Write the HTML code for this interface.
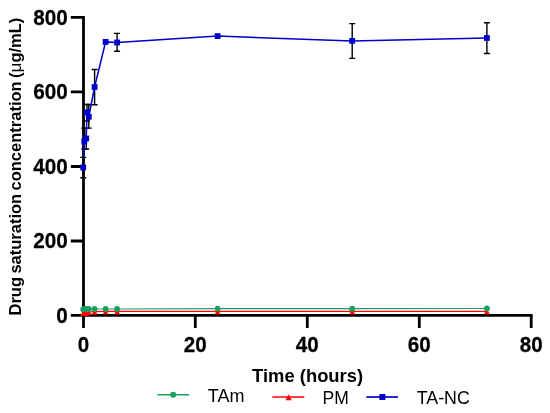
<!DOCTYPE html>
<html><head><meta charset="utf-8">
<style>
html,body{margin:0;padding:0;background:#fff;}
body{width:550px;height:413px;overflow:hidden;}
svg{display:block;}
text{font-family:"Liberation Sans",Arial,sans-serif;fill:#000;}
.b{font-weight:bold;}
</style></head><body>
<svg width="550" height="413" viewBox="0 0 550 413">
<rect width="550" height="413" fill="#fff"/>
<g stroke="#000" stroke-width="2.8" fill="none">
<path d="M83.5 16V327.9"/>
<path d="M70.8 315.3H532.6"/>
<path d="M70.8 17.4H83.5M70.8 91.9H83.5M70.8 166.5H83.5M70.8 241H83.5"/>
<path d="M195.3 315V327.9M307.3 315V327.9M419.3 315V327.9M531.2 315V327.9"/>
</g>
<g stroke="#000" stroke-width="1.4" fill="none">
<path d="M83.2 157.4V177.7M80.2 157.4h6M80.2 177.7h6"/>
<path d="M84.3 128.1V149M81.3 128.1h6M81.3 149h6"/>
<path d="M86.2 128.1V149M83.2 128.1h6M83.2 149h6"/>
<path d="M87 104.5V121M84.0 104.5h6M84.0 121h6"/>
<path d="M88.8 104.5V128.1M85.8 104.5h6M85.8 128.1h6"/>
<path d="M94.6 69.5V104.8M91.6 69.5h6M91.6 104.8h6"/>
<path d="M117.1 33.4V51.2M114.1 33.4h6M114.1 51.2h6"/>
<path d="M352.2 23.6V58.4M349.2 23.6h6M349.2 58.4h6"/>
<path d="M486.9 22.7V53.5M483.9 22.7h6M483.9 53.5h6"/>
</g>
<polyline fill="none" stroke="#ff0000" stroke-width="1.2" points="83.2,312.7 84.6,312.5 86,312.3 88.8,312.0 94.6,311.6 105.6,311.4 117.1,311.4 217.6,311.4 352.2,311.4 486.9,311.4"/>
<g fill="#ff0000">
<path d="M80.2 315.9l3-5.6l3 5.6z"/>
<path d="M81.6 315.7l3-5.6l3 5.6z"/>
<path d="M83.0 315.5l3-5.6l3 5.6z"/>
<path d="M85.8 315.2l3-5.6l3 5.6z"/>
<path d="M91.6 314.8l3-5.6l3 5.6z"/>
<path d="M102.6 314.6l3-5.6l3 5.6z"/>
<path d="M114.1 314.6l3-5.6l3 5.6z"/>
<path d="M214.6 314.6l3-5.6l3 5.6z"/>
<path d="M349.2 314.6l3-5.6l3 5.6z"/>
<path d="M483.9 314.6l3-5.6l3 5.6z"/>
</g>
<polyline fill="none" stroke="#1a9f62" stroke-width="1.2" points="83.2,309.3 84.6,309.1 86,308.9 88.8,308.9 94.6,309.0 105.6,309.0 117.1,309.0 217.6,308.6 352.2,308.7 486.9,308.5"/>
<g fill="#1a9f62">
<circle cx="83.2" cy="309.3" r="2.9"/>
<circle cx="84.6" cy="309.1" r="2.9"/>
<circle cx="86" cy="308.9" r="2.9"/>
<circle cx="88.8" cy="308.9" r="2.9"/>
<circle cx="94.6" cy="309.0" r="2.9"/>
<circle cx="105.6" cy="309.0" r="2.9"/>
<circle cx="117.1" cy="309.0" r="2.9"/>
<circle cx="217.6" cy="308.6" r="2.9"/>
<circle cx="352.2" cy="308.7" r="2.9"/>
<circle cx="486.9" cy="308.5" r="2.9"/>
</g>
<polyline fill="none" stroke="#0000cc" stroke-width="1.5" points="83.7,156.5 84.3,141.6 86.2,138.5 87,112.4 88.8,116.8 94.6,87 105.6,41.9 117.1,42.5 217.6,36.1 352.2,40.9 486.9,38"/>
<g fill="#0000cc">
<rect x="80.3" y="164.6" width="5.8" height="5.8"/>
<rect x="81.4" y="138.7" width="5.8" height="5.8"/>
<rect x="83.3" y="135.6" width="5.8" height="5.8"/>
<rect x="84.1" y="109.5" width="5.8" height="5.8"/>
<rect x="85.9" y="113.9" width="5.8" height="5.8"/>
<rect x="91.7" y="84.1" width="5.8" height="5.8"/>
<rect x="102.7" y="39.0" width="5.8" height="5.8"/>
<rect x="114.2" y="39.6" width="5.8" height="5.8"/>
<rect x="214.7" y="33.2" width="5.8" height="5.8"/>
<rect x="349.3" y="38.0" width="5.8" height="5.8"/>
<rect x="484.0" y="35.1" width="5.8" height="5.8"/>
</g>
<g class="b" font-size="20.7" text-anchor="end" stroke="#000" stroke-width="0.25">
<text transform="translate(67.8 24.6) scale(1 1.06)">800</text>
<text transform="translate(67.8 99.3) scale(1 1.06)">600</text>
<text transform="translate(67.8 173.9) scale(1 1.06)">400</text>
<text transform="translate(67.8 248.4) scale(1 1.06)">200</text>
<text transform="translate(67.8 322.9) scale(1 1.06)">0</text>
</g>
<g class="b" font-size="20.6" text-anchor="middle" stroke="#000" stroke-width="0.25">
<text transform="translate(83.4 351.8) scale(1 1.06)">0</text>
<text transform="translate(195.3 351.8) scale(1 1.06)">20</text>
<text transform="translate(307.3 351.8) scale(1 1.06)">40</text>
<text transform="translate(419.3 351.8) scale(1 1.06)">60</text>
<text transform="translate(531.2 351.8) scale(1 1.06)">80</text>
</g>
<text class="b" font-size="18.4" text-anchor="middle" transform="translate(307.6 382.1) scale(1 1.04)">Time (hours)</text>
<text class="b" font-size="16.5" word-spacing="-1.2" text-anchor="start" transform="translate(21.3 315.5) rotate(-90)">Drug saturation concentration (<tspan font-weight="normal" font-size="17.2">μ</tspan>g/mL)</text>
<path d="M157.4 394.7H189.1" stroke="#1a9f62" stroke-width="1.5"/>
<circle cx="173.2" cy="394.7" r="3" fill="#1a9f62"/>
<text font-size="18" x="207.8" y="401.6">TAm</text>
<path d="M272.3 397H304.3" stroke="#ff0000" stroke-width="1.5"/>
<path d="M285.4 400.2l3.2-6l3.2 6z" fill="#ff0000"/>
<text font-size="17.5" x="322.5" y="404">PM</text>
<path d="M366.4 397H398" stroke="#0000cc" stroke-width="1.7"/>
<rect x="379.4" y="394" width="6" height="6" fill="#0000cc"/>
<text font-size="17.8" x="416.8" y="404.1">TA-NC</text>
</svg>
</body></html>
